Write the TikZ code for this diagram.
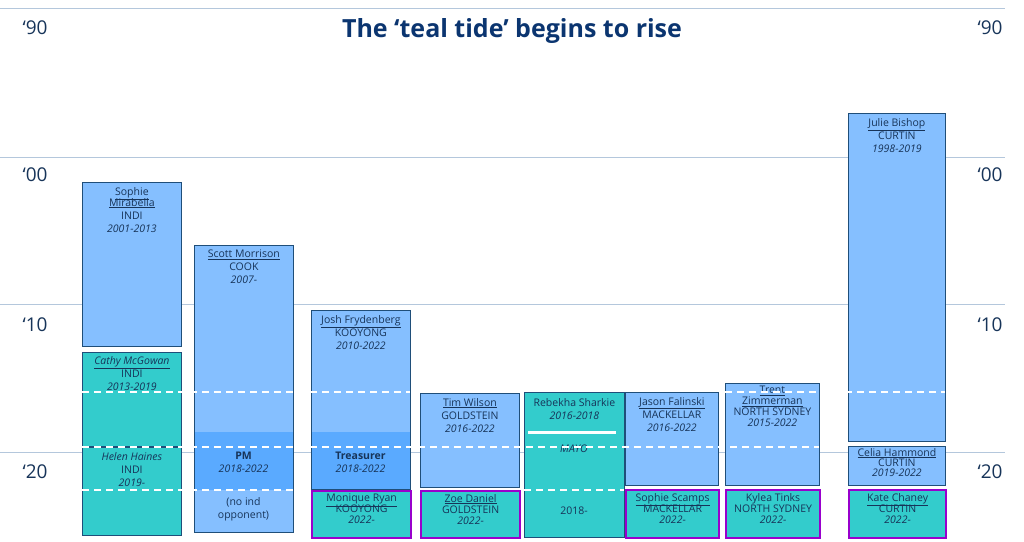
\documentclass[tikz,border=0pt]{standalone}
\usepackage{fontspec}
\setmainfont{Open Sans}
\definecolor{lb}{HTML}{85BFFF}
\definecolor{db}{HTML}{5AAAFF}
\definecolor{tl}{HTML}{33CCCC}
\definecolor{bd}{HTML}{1F4E79}
\definecolor{pu}{HTML}{9900CC}
\definecolor{tx}{HTML}{173459}
\definecolor{ti}{HTML}{0B3570}
\definecolor{gl}{HTML}{B4C7DC}
\newcommand{\bx}[6]{\node[#6,minimum width={#4-#2},minimum height={#5-#3},anchor=north west] (#1) at (#2,#3) {};}
\newcommand{\ul}[1]{\underline{#1}}
\begin{document}
\begin{tikzpicture}[x=1pt,y=-1pt,
  blu/.style={draw=bd,fill=lb,line width=0.8pt,inner sep=0},
  tea/.style={draw=bd,fill=tl,line width=0.8pt,inner sep=0},
  new/.style={draw=pu,fill=tl,line width=2.2pt,inner sep=0},
  txt/.style={text=tx,align=center,font=\fontsize{10.5}{13}\selectfont,anchor=north,inner sep=1pt},
  yr/.style={text=tx,font=\fontsize{19}{22}\selectfont},
  wd/.style={white,dashed,line width=1.3pt,dash pattern=on 7pt off 5pt}]
\useasboundingbox (0,0) rectangle (1024,541);
\foreach \y in {8,157,304,452} \draw[gl,line width=0.8pt] (0,\y) -- (1005,\y);
\node[yr] (l90) at (35,28) {‘90}; \node[yr] (r90) at (990,28) {‘90};
\node[yr] (l00) at (35,175) {‘00}; \node[yr] (r00) at (990,175) {‘00};
\node[yr] (l10) at (35,325) {‘10}; \node[yr] (r10) at (990,325) {‘10};
\node[yr] (l20) at (35,472) {‘20}; \node[yr] (r20) at (990,472) {‘20};
\node[text=ti,font=\fontsize{25}{30}\bfseries] (title) at (512,31) {The ‘teal tide’ begins to rise};
% column 1
\bx{mir}{82}{182}{181}{346}{blu}
\bx{mcg}{82}{352}{181}{446}{tea}
\bx{hai}{82}{447}{181}{535}{tea}
% column 2
\bx{mor}{194}{245}{293}{532}{blu}
\fill[db] (194.5,432) rectangle (292.5,490);
% column 3
\bx{fry}{311}{310}{410}{489}{blu}
\fill[db] (311.5,432) rectangle (409.5,488.5);
\bx{ryan}{311}{490}{410}{537}{new}
% column 4
\bx{wil}{420}{393}{519}{487}{blu}
\bx{dan}{420}{490}{519}{537}{new}
% column 5
\bx{sha}{524}{392}{624}{537}{tea}
% column 6
\bx{fal}{625}{392}{718}{485}{blu}
\bx{sca}{625}{489}{718}{537}{new}
% column 7
\bx{zim}{725}{383}{819}{485}{blu}
\bx{tin}{725}{489}{819}{537}{new}
% column 8
\bx{bis}{848}{113}{945}{441}{blu}
\bx{ham}{848}{446}{945}{485}{blu}
\bx{cha}{848}{489}{945}{537}{new}
% texts
\node[txt] (tmir) at ([yshift=-4pt]mir.north) {\ul{Sophie}\\[-2pt]\ul{Mirabella}\\INDI\\\itshape 2001-2013};
\node[txt] (tmcg) at ([yshift=-3pt]mcg.north) {\itshape\ul{Cathy McGowan}\\INDI\\\itshape 2013-2019};
\node[txt] (thai) at ([yshift=-4pt]hai.north) {\itshape Helen Haines\\INDI\\\itshape 2019-};
\node[txt] (tmor) at ([yshift=-4pt]mor.north) {\ul{Scott Morrison}\\COOK\\\itshape 2007-};
\node[txt] (tpm) at (243.5,451) {\bfseries PM\\\itshape 2018-2022};
\node[txt] (tnoi) at (243.5,496) {(no ind\\opponent)};
\node[txt] (tfry) at ([yshift=-4pt]fry.north) {\ul{Josh Frydenberg}\\KOOYONG\\\itshape 2010-2022};
\node[txt] (ttre) at (360.5,451) {\bfseries Treasurer\\\itshape 2018-2022};
\node[txt] (tryan) at ([yshift=-3pt]ryan.north) {\ul{Monique Ryan}\\[-2pt]KOOYONG\\[-2pt]\itshape 2022-};
\node[txt] (twil) at ([yshift=-4pt]wil.north) {\ul{Tim Wilson}\\GOLDSTEIN\\\itshape 2016-2022};
\node[txt] (tdan) at ([yshift=-3pt]dan.north) {\ul{Zoe Daniel}\\[-2pt]GOLDSTEIN\\[-2pt]\itshape 2022-};
\node[txt] (tsha) at ([yshift=-5pt]sha.north) {Rebekha Sharkie\\\itshape 2016-2018};
\node[txt] (tmayo) at (574,444) {\itshape MAYO};
\node[txt] (tsha2) at (574,506) {2018-};
\node[txt] (tfal) at ([yshift=-4pt]fal.north) {\ul{Jason Falinski}\\MACKELLAR\\\itshape 2016-2022};
\node[txt] (tsca) at ([yshift=-3pt]sca.north) {\ul{Sophie Scamps}\\[-2pt]MACKELLAR\\[-2pt]\itshape 2022-};
\node[txt] (tzim) at ([yshift=-2pt]zim.north) {\ul{Trent}\\[-2pt]\ul{Zimmerman}\\[-2pt]NORTH SYDNEY\\[-2pt]\itshape 2015-2022};
\node[txt] (ttin) at ([yshift=-3pt]tin.north) {Kylea Tinks\\[-2pt]NORTH SYDNEY\\[-2pt]\itshape 2022-};
\node[txt] (tbis) at ([yshift=-4pt]bis.north) {\ul{Julie Bishop}\\CURTIN\\\itshape 1998-2019};
\node[txt] (tham) at ([yshift=-1pt]ham.north) {\ul{Celia Hammond}\\[-3pt]CURTIN\\[-3pt]\itshape 2019-2022};
\node[txt] (tcha) at ([yshift=-3pt]cha.north) {\ul{Kate Chaney}\\[-2pt]CURTIN\\[-2pt]\itshape 2022-};
% dashed lines
\draw[wd] (82,392) -- (410,392);
\draw[wd] (725,392) -- (945,392);
\draw[wd] (82,447) -- (819,447);
\draw[wd] (82,490) -- (293,490);
\draw[wd] (524,490) -- (624,490);
\draw[white,line width=3pt] (528,432) -- (616,432);
\end{tikzpicture}
\end{document}
